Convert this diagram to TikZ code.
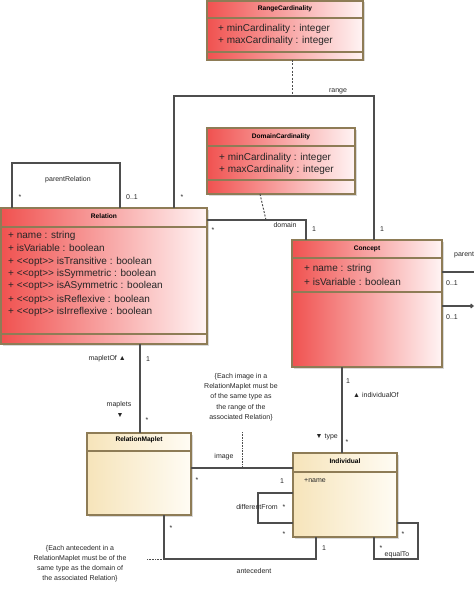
\documentclass[tikz,border=0pt]{standalone}
\usepackage{fontspec}
\setmainfont{Liberation Sans}[Ligatures=TeXOff]
\usepackage{tikz}
\usetikzlibrary{shadows,arrows.meta}

\definecolor{umlred}{RGB}{240,82,80}
\definecolor{umlpink}{RGB}{255,244,244}
\definecolor{umlcream}{RGB}{246,228,186}
\definecolor{umlivory}{RGB}{255,252,244}
\definecolor{umlframe}{RGB}{142,124,86}
\definecolor{wire}{RGB}{78,78,78}

\begin{document}
\begin{tikzpicture}[x=1pt,y=-1pt]
\tikzstyle{every node} = [font = \fontsize{7}{8}\selectfont, inner sep = 0pt, text = black!85]
\tikzstyle{redclass} = [draw = umlframe, line width = 1.6pt, left color = umlred, right color = umlpink, anchor = north west, outer sep = 0pt, drop shadow = {shadow xshift = 1.5pt, shadow yshift = -1.5pt, opacity = .3}]
\tikzstyle{creamclass} = [redclass, left color = umlcream, right color = umlivory]
\tikzstyle{sep} = [draw = umlframe, line width = 1.4pt]
\tikzstyle{hdr} = [font = \fontsize{6.6}{8}\selectfont\bfseries, text = black]
\tikzstyle{attr} = [font = \fontsize{10}{12}\selectfont, anchor = west]
\tikzstyle{assoc} = [draw = wire, line width = 1.1pt]
\tikzstyle{cardlink} = [draw = wire, line width = 1pt, dash pattern = on 2pt off 1.5pt]
\tikzstyle{notelink} = [draw = wire, line width = .8pt, dash pattern = on .8pt off .8pt]
\useasboundingbox (0,0) rectangle (474,594);

% classes
\node [redclass, minimum width = 156, minimum height = 59] (Range) at (207,1) {};
\draw [sep] ([yshift=-17pt]Range.north west) -- ([yshift=-17pt]Range.north east);
\draw [sep] ([yshift=-51pt]Range.north west) -- ([yshift=-51pt]Range.north east);
\node [hdr] (RangeHdr) at ([yshift=-8pt]Range.north) {RangeCardinality};
\node [attr] (RangeMin) at ([xshift=11pt,yshift=-28pt]Range.north west) {+ minCardinality : integer};
\node [attr] (RangeMax) at ([xshift=11pt,yshift=-40pt]Range.north west) {+ maxCardinality : integer};

\node [redclass, minimum width = 148, minimum height = 66] (Domain) at (207,128) {};
\draw [sep] ([yshift=-18pt]Domain.north west) -- ([yshift=-18pt]Domain.north east);
\draw [sep] ([yshift=-52pt]Domain.north west) -- ([yshift=-52pt]Domain.north east);
\node [hdr] (DomainHdr) at ([yshift=-9pt]Domain.north) {DomainCardinality};
\node [attr] (DomainMin) at ([xshift=12pt,yshift=-30pt]Domain.north west) {+ minCardinality : integer};
\node [attr] (DomainMax) at ([xshift=12pt,yshift=-42pt]Domain.north west) {+ maxCardinality : integer};

\node [redclass, minimum width = 206, minimum height = 136] (Relation) at (1,208) {};
\draw [sep] ([yshift=-19pt]Relation.north west) -- ([yshift=-19pt]Relation.north east);
\draw [sep] ([yshift=-126pt]Relation.north west) -- ([yshift=-126pt]Relation.north east);
\node [hdr] (RelationHdr) at ([yshift=-8pt]Relation.north) {Relation};
\foreach \a/\dy in {{+ name : string}/28, {+ isVariable : boolean}/40,
	{+ <<opt>> isTransitive : boolean}/54, {+ <<opt>> isSymmetric : boolean}/66,
	{+ <<opt>> isASymmetric : boolean}/78, {+ <<opt>> isReflexive : boolean}/92,
	{+ <<opt>> isIrreflexive : boolean}/104}
	\node [attr] (RelAttr\dy) at ([xshift=7pt,yshift=-\dy pt]Relation.north west) {\a};

\node [redclass, minimum width = 150, minimum height = 127] (Concept) at (292,240) {};
\draw [sep] ([yshift=-18pt]Concept.north west) -- ([yshift=-18pt]Concept.north east);
\draw [sep] ([yshift=-52pt]Concept.north west) -- ([yshift=-52pt]Concept.north east);
\node [hdr] (ConceptHdr) at ([yshift=-9pt]Concept.north) {Concept};
\node [attr] (ConceptName) at ([xshift=12pt,yshift=-29pt]Concept.north west) {+ name : string};
\node [attr] (ConceptVar) at ([xshift=12pt,yshift=-42pt]Concept.north west) {+ isVariable : boolean};

\node [creamclass, minimum width = 104, minimum height = 82] (RelationMaplet) at (87,433) {};
\draw [sep] ([yshift=-18pt]RelationMaplet.north west) -- ([yshift=-18pt]RelationMaplet.north east);
\node [hdr] (MapletHdr) at ([yshift=-7pt]RelationMaplet.north) {RelationMaplet};

\node [creamclass, minimum width = 104, minimum height = 84] (Individual) at (293,453) {};
\draw [sep] ([yshift=-19pt]Individual.north west) -- ([yshift=-19pt]Individual.north east);
\node [hdr] (IndividualHdr) at ([yshift=-8pt]Individual.north) {Individual};
\node [anchor = west] (IndividualName) at ([xshift=11pt,yshift=-28pt]Individual.north west) {+name};

% bend points and free ends
\coordinate (prL) at (12,163);
\coordinate (prR) at (120,163);
\coordinate (rgL) at (174,96);
\coordinate (rgR) at (374,96);
\coordinate (rgM) at (292,96);
\coordinate (dmC) at (306,220);
\coordinate (dmM) at (266,220);
\coordinate (parEnd) at (474,272);
\coordinate (subEnd) at (474,306);
\coordinate (mpX) at (140,0);
\coordinate (inX) at (342,0);
\coordinate (imY) at (0,468);
\coordinate (imM) at (242,468);
\coordinate (dfT) at (258,493);
\coordinate (dfB) at (258,523);
\coordinate (eqT) at (418,523);
\coordinate (eqB) at (418,559);
\coordinate (eqL) at (374,559);
\coordinate (anL) at (164,559);
\coordinate (anR) at (316,559);
\coordinate (anNote) at (147,559);

% associations
\draw [assoc] (Relation.north -| prL) -- (prL) -- (prR) -- (Relation.north -| prR);
\draw [assoc] (Relation.north -| rgL) -- (rgL) -- (rgR) -- (Concept.north -| rgR);
\draw [assoc] (Relation.east |- dmC) -- (dmC) -- (Concept.north -| dmC);
\draw [cardlink] (Range.south -| rgM) -- (rgM);
\draw [cardlink] ([xshift=-21pt]Domain.south) -- (dmM);
\draw [assoc] (Concept.east |- parEnd) -- (parEnd);
\draw [assoc, -{Straight Barb[length=2.5pt,width=4pt]}] (Concept.east |- subEnd) -- (subEnd);
\draw [assoc] (Relation.south -| mpX) -- (RelationMaplet.north -| mpX);
\draw [assoc] (Concept.south -| inX) -- (Individual.north -| inX);
\draw [assoc] (RelationMaplet.east |- imY) -- (Individual.west |- imY);
\draw [assoc] (Individual.west |- dfT) -- (dfT) -- (dfB) -- (Individual.west |- dfB);
\draw [assoc] (Individual.east |- eqT) -- (eqT) -- (eqB) -- (eqL) -- (Individual.south -| eqL);
\draw [assoc] (RelationMaplet.south -| anL) -- (anL) -- (anR) -- (Individual.south -| anR);

% association labels
\node (lParentRel) at (68,180) {parentRelation};
\node (lPrMany) at (20,197) {*};
\node (lPrOne) at (132,197) {0..1};
\node (lRange) at (338,91) {range};
\node (lRgMany) at (182,197) {*};
\node (lRgOne) at (382,229) {1};
\node (lDomain) at (285,225) {domain};
\node (lDmMany) at (213,230) {*};
\node (lDmOne) at (314,229) {1};
\node [anchor = west] (lParent) at (454,255) {parent};
\node (lParOne) at (452,283) {0..1};
\node (lSubOne) at (452,317) {0..1};
\node [anchor = east] (lMapletOf) at (126,359) {mapletOf ▲};
\node (lMpOne) at (148,359) {1};
\node (lMaplets) at (119,405) {maplets};
\node (lMapletsArr) at (120,416) {▼};
\node (lMpMany) at (147,420) {*};
\node (lInOne) at (348,381) {1};
\node [anchor = west] (lIndivOf) at (353,395) {▲ individualOf};
\node [anchor = east] (lType) at (338,437) {▼ type};
\node (lInMany) at (347,442) {*};
\node (lImage) at (224,457) {image};
\node (lImMany) at (197,480) {*};
\node (lImOne) at (282,481) {1};
\node (lDiffFrom) at (257,507) {differentFrom};
\node (lDfTop) at (284,507) {*};
\node (lDfBot) at (284,534) {*};
\node (lEqTop) at (403,534) {*};
\node (lEqBot) at (381,548) {*};
\node (lEqualTo) at (397,555) {equalTo};
\node (lAnMany) at (171,528) {*};
\node (lAnOne) at (324,548) {1};
\node (lAntecedent) at (254,571) {antecedent};

% constraints
\node [align = center, font = \fontsize{7}{10.3}\selectfont] (ImageNote) at (241,397)
	{\{Each image in a\\RelationMaplet must be\\of the same type as\\the range of the\\associated Relation\}};
\node [align = center, font = \fontsize{7}{10}\selectfont] (AnteNote) at (80,564)
	{\{Each antecedent in a\\RelationMaplet must be of the\\same type as the domain of\\the associated Relation\}};
\coordinate (imTop) at (242,432);
\draw [notelink] (imTop) -- (imM);
\draw [notelink] (anNote) -- (anL);

\end{tikzpicture}
\end{document}
